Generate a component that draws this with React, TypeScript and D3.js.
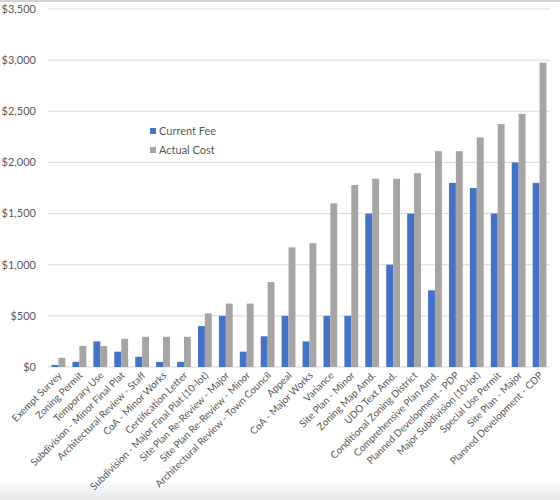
import React from 'react';
import * as d3 from 'd3';

const categories = [
  'Exempt Survey',
  'Zoning Permit',
  'Temporary Use',
  'Subdivision - Minor Final Plat',
  'Architectural Review - Staff',
  'CoA - Minor Works',
  'Certification Letter',
  'Subdivision - Major Final Plat (10-lot)',
  'Site Plan Re-Review - Major',
  'Site Plan Re-Review - Minor',
  'Architectural Review - Town Council',
  'Appeal',
  'CoA - Major Works',
  'Variance',
  'Site Plan - Minor',
  'Zoning Map Amd.',
  'UDO Text Amd.',
  'Conditional Zoning District',
  'Comprehensive Plan Amd.',
  'Planned Development - PDP',
  'Major Subdivision (10-lot)',
  'Special Use Permit',
  'Site Plan - Major',
  'Planned Development - CDP',
];

const currentFee = [20, 50, 250, 150, 100, 50, 50, 400, 500, 150, 300, 500, 250, 500, 500, 1500, 1000, 1500, 750, 1800, 1750, 1500, 2000, 1800];
const actualCost = [90, 205, 205, 275, 295, 295, 295, 525, 620, 620, 830, 1170, 1210, 1600, 1780, 1840, 1840, 1895, 2110, 2110, 2245, 2375, 2475, 2975];

const seriesNames = ['Current Fee', 'Actual Cost'];
const seriesColors = ['#4472C4', '#A5A5A5'];
const yTicks = [0, 500, 1000, 1500, 2000, 2500, 3000, 3500];

const W = 560;
const H = 500;
const FONT = 'Lato, "Open Sans", sans-serif';
const TEXT = '#595959';

export default function App() {
  const x0 = d3.scaleBand<string>()
    .domain(categories)
    .range([48, 550])
    .paddingInner(0.34)
    .paddingOuter(0.17);

  const x1 = d3.scaleBand<string>()
    .domain(seriesNames)
    .range([0, x0.bandwidth()]);

  const y = d3.scaleLinear().domain([0, 3500]).range([367, 9]);
  const fmt = (v: number) => '$' + d3.format(',')(v);
  const values = [currentFee, actualCost];

  return (
    <svg width={W} height={H} style={{ position: 'absolute', left: 0, top: 0, background: '#fff' }}>
      <defs>
        <linearGradient id="bottomShade" x1="0" y1="0" x2="0" y2="1">
          <stop offset="0" stopColor="#ffffff" />
          <stop offset="1" stopColor="#e6e6e6" />
        </linearGradient>
      </defs>
      <rect x={0} y={0} width={W} height={H} fill="#fff" />
      <rect x={0} y={480} width={W} height={20} fill="url(#bottomShade)" />
      <rect x={0} y={0} width={W} height={2} fill="#d4d4d4" />

      {/* gridlines + y labels */}
      {yTicks.map((t) => (
        <g key={t}>
          <line x1={48} x2={550} y1={y(t)} y2={y(t)} stroke="#d9d9d9" strokeWidth={1} />
          <text x={36} y={y(t)} dy="0.35em" textAnchor="end" fontFamily={FONT} fontSize={11} fill={TEXT}>
            {fmt(t)}
          </text>
        </g>
      ))}

      {/* bars */}
      {categories.map((c, i) => (
        <g key={c} transform={`translate(${x0(c)},0)`}>
          {seriesNames.map((s, k) => (
            <rect
              key={s}
              x={x1(s)}
              y={y(values[k][i])}
              width={x1.bandwidth()}
              height={y(0) - y(values[k][i])}
              fill={seriesColors[k]}
            />
          ))}
        </g>
      ))}

      {/* x labels */}
      {categories.map((c) => {
        const cx = (x0(c) ?? 0) + x0.bandwidth() / 2 + 4;
        const cy = 376;
        return (
          <text
            key={c}
            transform={`translate(${cx},${cy}) rotate(-45)`}
            textAnchor="end"
            fontFamily={FONT}
            fontSize={10}
            fill={TEXT}
          >
            {c}
          </text>
        );
      })}

      {/* legend */}
      {seriesNames.map((s, k) => (
        <g key={s} transform={`translate(150,${128 + k * 19})`}>
          <rect x={0} y={0} width={6} height={6} fill={seriesColors[k]} />
          <text x={9} y={3} dy="0.35em" fontFamily={FONT} fontSize={11} fill={TEXT}>
            {s}
          </text>
        </g>
      ))}
    </svg>
  );
}
